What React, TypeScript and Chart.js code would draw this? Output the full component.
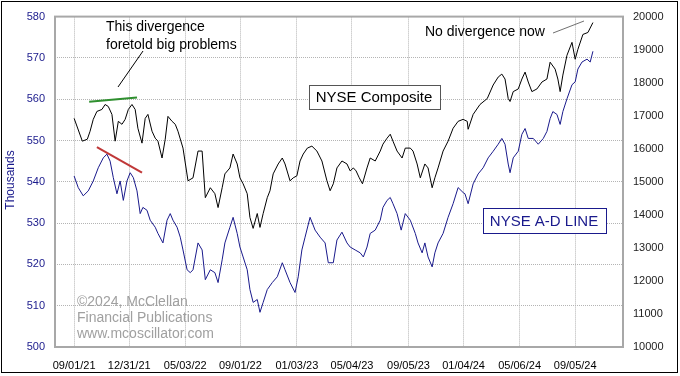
import React, { useEffect, useRef } from "react";
import { Chart, registerables } from "chart.js";

Chart.register(...registerables);

// x = calendar day offset from 09/01/21
const tickDays = [0, 121, 244, 365, 489, 610, 734, 855, 978, 1100];
const tickLabels = ["09/01/21", "12/31/21", "05/03/22", "09/01/22", "01/03/23", "05/04/23", "09/05/23", "01/04/24", "05/06/24", "09/05/24"];

const nyseDays = [0, 18, 29, 35, 42, 50, 61, 68, 75, 83, 90, 97, 105, 112, 119, 127, 134, 140, 149, 156, 162, 171, 178, 184, 193, 200, 206, 215, 222, 228, 239, 250, 261, 272, 281, 288, 299, 309, 316, 325, 331, 342, 349, 358, 364, 371, 380, 386, 393, 402, 408, 415, 424, 430, 437, 448, 457, 463, 474, 481, 489, 496, 503, 512, 522, 533, 544, 555, 562, 569, 577, 588, 599, 606, 613, 619, 626, 633, 643, 650, 661, 672, 678, 687, 694, 700, 709, 720, 727, 738, 744, 753, 760, 770, 777, 786, 792, 799, 810, 821, 832, 843, 854, 863, 865, 876, 891, 907, 920, 931, 939, 946, 953, 957, 964, 975, 983, 990, 997, 1005, 1016, 1027, 1038, 1045, 1056, 1062, 1067, 1073, 1082, 1093, 1100, 1106, 1117, 1128, 1139];
const nyseValues = [16920, 16230, 16290, 16530, 16890, 17130, 17190, 17340, 17280, 17040, 16230, 16830, 16740, 16890, 17190, 17340, 17190, 16620, 16170, 16920, 17040, 16530, 16320, 16230, 15720, 16290, 16980, 16830, 16740, 16530, 16020, 15030, 15120, 15930, 15930, 14520, 14820, 14640, 14220, 14820, 15240, 15420, 15840, 15540, 15120, 14940, 14640, 13920, 13590, 14040, 13620, 14040, 14520, 14730, 15240, 15540, 15720, 15540, 15030, 15120, 15180, 15630, 15840, 16020, 16080, 15930, 15630, 15030, 14730, 14940, 15420, 15630, 15540, 15330, 15420, 15330, 15120, 14940, 15420, 15720, 15630, 15930, 16140, 16320, 16440, 16230, 15930, 15720, 16020, 16020, 15930, 15540, 15120, 15540, 15420, 14820, 15120, 15420, 15930, 16230, 16620, 16830, 16890, 16830, 16590, 17040, 17340, 17520, 17930, 18170, 18260, 18110, 17520, 17430, 17730, 17810, 18110, 18320, 18020, 17730, 17810, 18020, 18110, 18620, 18410, 18110, 17730, 18230, 18830, 19220, 18710, 19010, 19460, 19520, 19820];

const adDays = [0, 9, 20, 31, 42, 53, 64, 72, 79, 86, 94, 101, 108, 116, 123, 130, 138, 145, 151, 160, 167, 178, 184, 195, 204, 211, 217, 226, 233, 239, 248, 255, 261, 272, 281, 288, 299, 309, 316, 325, 331, 342, 349, 358, 364, 371, 380, 386, 393, 402, 408, 415, 424, 435, 446, 457, 463, 474, 485, 492, 500, 507, 518, 529, 540, 551, 558, 569, 577, 588, 599, 606, 617, 628, 635, 643, 650, 661, 672, 678, 687, 694, 700, 709, 718, 727, 738, 749, 755, 764, 770, 777, 786, 792, 799, 810, 821, 832, 843, 854, 858, 865, 876, 887, 898, 909, 920, 931, 939, 946, 953, 957, 964, 975, 983, 990, 997, 1008, 1019, 1030, 1038, 1045, 1051, 1060, 1067, 1073, 1082, 1093, 1100, 1106, 1115, 1126, 1133, 1139];
const adValues = [541.4, 538.6, 536.6, 537.8, 540.2, 543.4, 545.8, 546.7, 545.0, 541.0, 537.1, 540.2, 535.5, 540.2, 542.2, 541.0, 537.8, 532.3, 533.8, 533.1, 530.7, 529.0, 527.5, 525.2, 530.7, 532.3, 530.7, 529.0, 526.6, 523.5, 518.7, 518.0, 518.7, 525.2, 523.5, 516.3, 518.7, 518.0, 515.6, 521.1, 525.2, 529.0, 531.4, 527.5, 524.2, 521.8, 518.7, 513.9, 510.8, 511.5, 508.4, 510.8, 513.9, 515.6, 517.0, 520.4, 518.7, 515.6, 513.2, 517.0, 523.5, 526.6, 531.4, 528.3, 526.6, 525.2, 520.4, 520.4, 525.9, 527.8, 525.2, 524.2, 523.5, 522.8, 521.8, 524.2, 527.5, 528.3, 530.7, 533.8, 535.5, 536.2, 534.7, 532.3, 528.3, 532.3, 530.7, 527.5, 525.2, 522.8, 525.2, 521.8, 519.4, 522.8, 525.2, 527.5, 531.4, 534.7, 538.6, 537.4, 537.1, 534.7, 539.5, 541.9, 543.4, 545.8, 547.4, 549.1, 550.5, 549.1, 544.3, 542.2, 545.8, 547.4, 551.5, 552.9, 550.5, 550.5, 549.1, 550.5, 552.2, 555.3, 557.0, 556.3, 553.9, 557.0, 560.1, 563.5, 564.2, 567.3, 569.0, 569.7, 569.0, 571.6];

// divergence lines (day, thousands)
const greenLine = [[33, 559.4], [138, 560.4]];
const redLine = [[50, 548.4], [149, 542.2]];

const FONT = "'Liberation Sans', Arial, sans-serif";
const NAVY = "#1a1a8c";

const overlay = {
  id: "overlay",
  beforeDraw(chart: any) {
    const ctx = chart.ctx;
    ctx.save();
    ctx.fillStyle = "#ffffff";
    ctx.fillRect(0, 0, chart.width, chart.height);
    ctx.restore();
  },
  beforeDatasetsDraw(chart: any) {
    const { ctx, chartArea: a } = chart;
    ctx.save();
    ctx.strokeStyle = "#a8a8a8";
    ctx.lineWidth = 2;
    ctx.strokeRect(a.left, a.top, a.right - a.left, a.bottom - a.top);
    ctx.restore();
  },
  afterDraw(chart: any) {
    const { ctx, scales } = chart;
    const sx = scales.x, sy = scales.y;
    ctx.save();
    ctx.strokeStyle = "#000";
    ctx.lineWidth = 1;
    ctx.strokeRect(1.5, 1.5, 676, 371);

    ctx.save();
    ctx.translate(11, 180);
    ctx.rotate(-Math.PI / 2);
    ctx.fillStyle = NAVY;
    ctx.font = `12px ${FONT}`;
    ctx.textAlign = "center";
    ctx.textBaseline = "middle";
    ctx.fillText("Thousands", 0, 0);
    ctx.restore();

    const seg = (pts: number[][], color: string) => {
      ctx.beginPath();
      ctx.strokeStyle = color;
      ctx.lineWidth = 2;
      ctx.moveTo(sx.getPixelForValue(pts[0][0]), sy.getPixelForValue(pts[0][1]));
      ctx.lineTo(sx.getPixelForValue(pts[1][0]), sy.getPixelForValue(pts[1][1]));
      ctx.stroke();
    };
    seg(greenLine, "#2f8f2f");
    seg(redLine, "#c03838");

    ctx.textBaseline = "middle";
    ctx.textAlign = "left";
    ctx.fillStyle = "#000";
    ctx.font = `14px ${FONT}`;
    ctx.fillText("This divergence", 106, 27);
    ctx.fillText("foretold big problems", 106, 45);
    ctx.fillText("No divergence now", 425, 32);

    ctx.lineWidth = 1;
    ctx.strokeStyle = "#000";
    ctx.beginPath();
    ctx.moveTo(118, 87);
    ctx.lineTo(143, 51);
    ctx.stroke();
    ctx.strokeStyle = "#707070";
    ctx.beginPath();
    ctx.moveTo(553, 33);
    ctx.lineTo(584, 21);
    ctx.stroke();

    ctx.fillStyle = "#fff";
    ctx.fillRect(309.5, 85.5, 131, 24);
    ctx.strokeStyle = "#555";
    ctx.strokeRect(309.5, 85.5, 131, 24);
    ctx.fillStyle = "#000";
    ctx.font = `15px ${FONT}`;
    ctx.textAlign = "center";
    ctx.fillText("NYSE Composite", 374, 98);

    ctx.fillStyle = "#fff";
    ctx.fillRect(483.5, 208.5, 123, 25);
    ctx.strokeStyle = NAVY;
    ctx.strokeRect(483.5, 208.5, 123, 25);
    ctx.fillStyle = NAVY;
    ctx.fillText("NYSE A-D LINE", 544, 221.5);

    ctx.textAlign = "left";
    ctx.fillStyle = "#a0a0a0";
    ctx.font = `14px ${FONT}`;
    ctx.fillText("\u00A92024, McClellan", 77, 302);
    ctx.fillText("Financial Publications", 77, 318);
    ctx.fillText("www.mcoscillator.com", 77, 334);
    ctx.restore();
  },
};

export default function App() {
  const ref = useRef<HTMLCanvasElement | null>(null);
  useEffect(() => {
    if (!ref.current) return;
    const chart = new Chart(ref.current, {
      type: "line",
      data: {
        datasets: [
          {
            label: "NYSE A-D Line",
            data: adDays.map((d, i) => ({ x: d, y: adValues[i] })),
            borderColor: NAVY,
            borderWidth: 1,
            pointRadius: 0,
            tension: 0,
            yAxisID: "y",
          },
          {
            label: "NYSE Composite",
            data: nyseDays.map((d, i) => ({ x: d, y: nyseValues[i] })),
            borderColor: "#000",
            borderWidth: 1,
            pointRadius: 0,
            tension: 0,
            yAxisID: "y1",
          },
        ],
      },
      options: {
        animation: false,
        responsive: false,
        maintainAspectRatio: false,
        layout: { padding: { top: 13, left: 0, right: 0, bottom: 0 } },
        plugins: { legend: { display: false }, tooltip: { enabled: false } },
        scales: {
          x: {
            type: "linear",
            min: -42,
            max: 1205,
            afterBuildTicks: (s: any) => {
              s.ticks = tickDays.map((v) => ({ value: v }));
            },
            afterFit: (s: any) => {
              s.height = 29;
            },
            ticks: {
              autoSkip: false,
              maxRotation: 0,
              padding: 12,
              color: "#000",
              font: { family: FONT, size: 11 },
              callback: (v: any) => {
                const i = tickDays.indexOf(Number(v));
                return i >= 0 ? tickLabels[i] : "";
              },
            },
            grid: { color: "#b4b4b4", drawTicks: false, lineWidth: 1 },
            border: { display: false, dash: [1, 1] },
          },
          y: {
            position: "left",
            min: 500,
            max: 580,
            afterFit: (s: any) => {
              s.width = 55;
            },
            ticks: {
              stepSize: 10,
              padding: 10,
              color: NAVY,
              font: { family: FONT, size: 11 },
              callback: (v: any) => String(v),
            },
            grid: { color: "#b4b4b4", drawTicks: false, lineWidth: 1 },
            border: { display: false, dash: [1, 1] },
          },
          y1: {
            position: "right",
            min: 10000,
            max: 20000,
            afterFit: (s: any) => {
              s.width = 57;
            },
            ticks: {
              stepSize: 1000,
              padding: 10,
              color: "#222",
              font: { family: FONT, size: 11 },
              callback: (v: any) => String(v),
            },
            grid: { drawOnChartArea: false, drawTicks: false },
            border: { display: false },
          },
        },
      },
      plugins: [overlay],
    });
    return () => chart.destroy();
  }, []);
  return (
    <div style={{ position: "fixed", left: 0, top: 0, width: 680, height: 376, background: "#fff" }}>
      <canvas ref={ref} width={680} height={376} style={{ width: 680, height: 376, display: "block" }} />
    </div>
  );
}
